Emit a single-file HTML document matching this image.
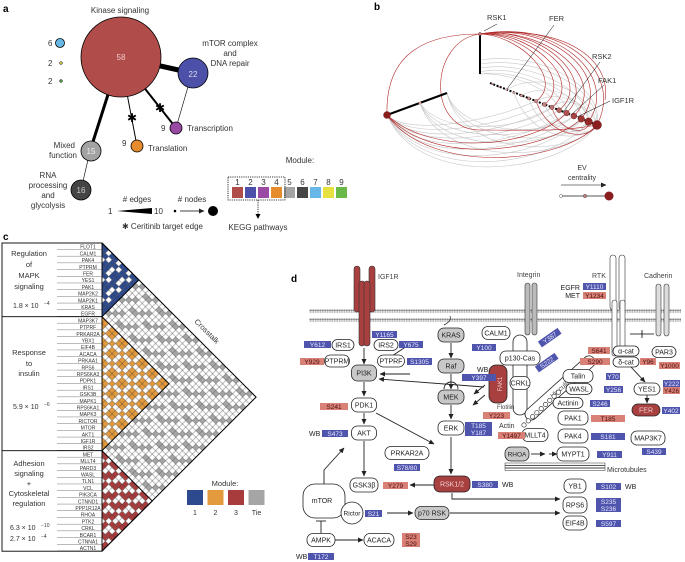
<!DOCTYPE html>
<html><head><meta charset="utf-8">
<style>
html,body{margin:0;padding:0;background:#fff;}
svg{display:block;font-family:"Liberation Sans",sans-serif;}
</style></head><body>
<svg width="685" height="562" viewBox="0 0 685 562" xmlns="http://www.w3.org/2000/svg">
<defs>
<marker id="ar" markerWidth="6" markerHeight="6" refX="5" refY="3" orient="auto" markerUnits="userSpaceOnUse"><path d="M0,0.5 L5.5,3 L0,5.5 z" fill="#222"/></marker>
<pattern id="mem" width="2.4" height="3" patternUnits="userSpaceOnUse"><circle cx="1.2" cy="1.5" r="1.1" fill="#888"/></pattern>
<pattern id="grid" width="1" height="1" patternUnits="userSpaceOnUse"><rect x="0" y="0" width="1" height="1" fill="none" stroke="#333" stroke-width="0.07"/></pattern>
<pattern id="pBlue" width="3" height="3" patternUnits="userSpaceOnUse"><rect x="0" y="0" width="1" height="1" fill="#2e4a8e"/><rect x="1" y="0" width="1" height="1" fill="#2e4a8e"/><rect x="2" y="1" width="1" height="1" fill="#2e4a8e"/><rect x="0" y="2" width="1" height="1" fill="#2e4a8e"/><rect x="1" y="2" width="1" height="1" fill="#2e4a8e"/><rect x="1" y="1" width="1" height="1" fill="#2e4a8e"/></pattern>
<pattern id="pOr" width="3" height="3" patternUnits="userSpaceOnUse"><rect x="0" y="0" width="1" height="1" fill="#e39a3c"/><rect x="2" y="0" width="1" height="1" fill="#e39a3c"/><rect x="1" y="1" width="1" height="1" fill="#e39a3c"/><rect x="0" y="2" width="1" height="1" fill="#e39a3c"/><rect x="2" y="2" width="1" height="1" fill="#e39a3c"/></pattern>
<pattern id="pRed" width="3" height="3" patternUnits="userSpaceOnUse"><rect x="0" y="0" width="1" height="1" fill="#a83c3c"/><rect x="1" y="1" width="1" height="1" fill="#a83c3c"/><rect x="2" y="1" width="1" height="1" fill="#a83c3c"/><rect x="0" y="2" width="1" height="1" fill="#a83c3c"/><rect x="2" y="0" width="1" height="1" fill="#a83c3c"/></pattern>
<pattern id="pGr" width="4" height="4" patternUnits="userSpaceOnUse"><rect x="0" y="0" width="1" height="1" fill="#a5a5a5"/><rect x="2" y="1" width="1" height="1" fill="#a5a5a5"/><rect x="3" y="1" width="1" height="1" fill="#a5a5a5"/><rect x="1" y="3" width="1" height="1" fill="#a5a5a5"/></pattern>
<pattern id="glines" width="50" height="6.7" patternUnits="userSpaceOnUse" y="243"><line x1="0" y1="6.5" x2="50" y2="6.5" stroke="#444" stroke-width="0.4"/></pattern>
</defs>

<!-- Panel a -->
<g font-size="8" fill="#333">
<text x="3" y="12" font-weight="bold" font-size="10" fill="#000">a</text>
<line x1="120" y1="57" x2="192" y2="73" stroke="#000" stroke-width="5"/>
<line x1="120" y1="57" x2="176" y2="128" stroke="#000" stroke-width="2"/>
<line x1="120" y1="57" x2="137" y2="146" stroke="#000" stroke-width="1"/>
<line x1="120" y1="57" x2="90" y2="151" stroke="#000" stroke-width="3"/>
<line x1="192" y1="73" x2="176" y2="128" stroke="#000" stroke-width="0.6"/>
<line x1="90" y1="151" x2="81" y2="190" stroke="#000" stroke-width="0.6"/>
<text x="155" y="112" font-size="12" fill="#000">✱</text>
<text x="127" y="122" font-size="12" fill="#000">✱</text>
<circle cx="121" cy="57" r="40" fill="#b04d4b" stroke="#000" stroke-width="0.8"/>
<text x="121" y="60" fill="#f2c8c8" text-anchor="middle">58</text>
<circle cx="193" cy="73" r="15" fill="#4c50a8" stroke="#000" stroke-width="0.8"/>
<text x="193" y="77" fill="#dde" text-anchor="middle">22</text>
<circle cx="176" cy="128" r="6" fill="#9b4aa3" stroke="#000" stroke-width="0.8"/>
<circle cx="137" cy="146" r="6" fill="#e68c2c" stroke="#000" stroke-width="0.8"/>
<circle cx="91" cy="151" r="10" fill="#a3a3a3" stroke="#000" stroke-width="0.8"/>
<text x="91" y="154" fill="#eee" text-anchor="middle">15</text>
<circle cx="81" cy="190" r="10" fill="#454545" stroke="#000" stroke-width="0.8"/>
<text x="81" y="193" fill="#ccc" text-anchor="middle">16</text>
<circle cx="60" cy="43" r="4.5" fill="#67b8e6" stroke="#000" stroke-width="0.8"/>
<circle cx="61" cy="63" r="1.4" fill="#d8d040" stroke="#000" stroke-width="0.5"/>
<circle cx="61" cy="81" r="1.4" fill="#58a848" stroke="#000" stroke-width="0.5"/>
<text x="48" y="46">6</text><text x="48" y="66">2</text><text x="48" y="84">2</text>
<text x="120" y="13" text-anchor="middle">Kinase signaling</text>
<text x="230" y="46" text-anchor="middle">mTOR complex</text>
<text x="230" y="56" text-anchor="middle">and</text>
<text x="230" y="66" text-anchor="middle">DNA repair</text>
<text x="161" y="131">9</text><text x="187" y="131">Transcription</text>
<text x="122" y="146">9</text><text x="148" y="151">Translation</text>
<text x="75" y="148" text-anchor="end">Mixed</text>
<text x="77" y="158" text-anchor="end">function</text>
<text x="48" y="178" text-anchor="middle">RNA</text>
<text x="48" y="188" text-anchor="middle">processing</text>
<text x="48" y="198" text-anchor="middle">and</text>
<text x="48" y="208" text-anchor="middle">glycolysis</text>
<text x="137" y="202" text-anchor="middle"># edges</text>
<text x="192" y="202" text-anchor="middle"># nodes</text>
<text x="108" y="214">1</text>
<polygon points="117,211 152,208 152,214" fill="#000"/>
<text x="154" y="214">10</text>
<circle cx="175" cy="211" r="1.3" fill="#000"/>
<line x1="180" y1="211" x2="204" y2="211" stroke="#000" stroke-width="0.8" marker-end="url(#ar)"/>
<circle cx="213" cy="211" r="5" fill="#000"/>
<text x="122" y="229">✱ Ceritinib target edge</text>
<text x="300" y="163" text-anchor="middle">Module:</text>
<rect x="232" y="187" width="11" height="11" fill="#b04d4b"/>
<rect x="245" y="187" width="11" height="11" fill="#4c50a8"/>
<rect x="258" y="187" width="11" height="11" fill="#9b4aa3"/>
<rect x="271" y="187" width="11" height="11" fill="#e68c2c"/>
<rect x="284" y="187" width="11" height="11" fill="#a3a3a3"/>
<rect x="297" y="187" width="11" height="11" fill="#454545"/>
<rect x="310" y="187" width="11" height="11" fill="#67b8e6"/>
<rect x="323" y="187" width="11" height="11" fill="#e6e040"/>
<rect x="336" y="187" width="11" height="11" fill="#6ab848"/>
<text x="237.5" y="185" text-anchor="middle">1</text>
<text x="250.5" y="185" text-anchor="middle">2</text>
<text x="263.5" y="185" text-anchor="middle">3</text>
<text x="276.5" y="185" text-anchor="middle">4</text>
<text x="289.5" y="185" text-anchor="middle">5</text>
<text x="302.5" y="185" text-anchor="middle">6</text>
<text x="315.5" y="185" text-anchor="middle">7</text>
<text x="328.5" y="185" text-anchor="middle">8</text>
<text x="341.5" y="185" text-anchor="middle">9</text>
<rect x="228" y="177" width="57" height="23" fill="none" stroke="#000" stroke-width="0.8" stroke-dasharray="1.2,1"/>
<line x1="258" y1="200" x2="258" y2="216" stroke="#000" stroke-width="0.8" stroke-dasharray="1.2,1"/>
<path d="M255.5,214 L258,219 L260.5,214z" fill="#000"/>
<text x="258" y="230" text-anchor="middle">KEGG pathways</text>
</g>

<!-- Panel b -->
<g fill="none" stroke-width="0.6">
<text x="374" y="10" font-weight="bold" font-size="10" fill="#000" stroke="none">b</text>
<g stroke="#c8c8c8">
<path d="M387,115 C420,190 560,175 597,125"/>
<path d="M387,115 C420,182 550,170 588.6,121.7"/>
<path d="M387,115 C420,175 540,162 581.3,118.9"/>
<path d="M387,115 C420,168 530,152 573.9,116"/>
<path d="M387,115 C415,160 520,146 566.6,113.1"/>
<path d="M387,115 C415,152 510,140 559.2,110.2"/>
<path d="M387,115 C410,146 500,136 551.9,107.4"/>
<path d="M387,115 C410,140 490,130 544.5,104.5"/>
<path d="M387,115 C405,134 480,125 536.1,101.2"/>
<path d="M420,103 C440,165 560,165 597,125"/>
<path d="M420,103 C440,155 550,152 581.3,118.9"/>
<path d="M420,103 C440,145 540,142 566.6,113.1"/>
<path d="M420,103 C440,135 520,132 551.9,107.4"/>
<path d="M447,93 C460,155 570,160 597,125"/>
<path d="M447,93 C460,145 560,148 588.6,121.7"/>
<path d="M447,93 C460,135 545,138 573.9,116"/>
<path d="M480,60 C545,50 605,90 597,125"/>
<path d="M480,64 C540,55 600,90 597,125"/>
<path d="M480,68 C530,60 590,90 588.6,121.7"/>
<path d="M480,72 C520,62 582,95 581.3,118.9"/>
<path d="M480,74 C520,68 570,95 566.6,113.1"/>
<path d="M480,74 C510,72 555,90 559.2,110.2"/>
<path d="M514,92.6 C530,140 580,145 597,125"/>
<path d="M528.8,98.4 C540,135 580,140 588.6,121.7"/>
<path d="M536.1,101.2 C545,130 575,135 581.3,118.9"/>
<path d="M544.5,104.5 C555,130 590,140 597,125"/>
<path d="M506.7,89.7 C540,70 590,90 597,125"/>
<path d="M521.4,95.5 C550,80 585,100 588.6,121.7"/>
<path d="M536.1,101.2 C560,88 590,105 597,125"/>
<path d="M551.9,107.4 C565,95 590,105 588.6,121.7"/>
</g>
<g stroke="#b02828">
<path d="M387,115 C385,50 430,34 480,34"/>
<path d="M480,34 C430,40 425,130 480,130 C530,130 560,132 597,125"/>
<path d="M480,34 C560,20 625,70 597,125"/>
<path d="M480,34 C555,20 620,75 588.6,121.7"/>
<path d="M480,34 C550,22 615,75 581.3,118.9"/>
<path d="M480,34 C545,25 610,80 573.9,116"/>
<path d="M480,34 C540,25 600,80 566.6,113.1"/>
<path d="M480,34 C535,28 595,80 559.2,110.2"/>
<path d="M480,34 C530,30 585,80 551.9,107.4"/>
<path d="M480,34 C525,32 575,80 544.5,104.5"/>
<path d="M480,34 C520,35 565,80 536.1,101.2"/>
<path d="M480,34 C565,24 612,60 605,100"/>
<path d="M387,115 C430,175 560,165 597,125"/>
<path d="M387,115 C430,165 540,155 581.3,118.9"/>
<path d="M387,115 C430,155 530,150 566.6,113.1"/>
<path d="M536.1,101.2 C550,140 590,140 597,125"/>
<path d="M551.9,107.4 C560,135 590,135 588.6,121.7"/>
</g>
<line x1="387" y1="115" x2="447" y2="93" stroke="#000" stroke-width="2"/>
<line x1="480" y1="34" x2="480" y2="74" stroke="#000" stroke-width="2"/>
<line x1="490" y1="83" x2="597" y2="125" stroke="#000" stroke-width="2" stroke-dasharray="2,1.5"/>
<g stroke="#5a1010" stroke-width="0.4">
<circle cx="387" cy="115" r="3.5" fill="#8a1e1e"/>
<circle cx="420" cy="103" r="1.3" fill="#d8a0a0" stroke="none"/>
<circle cx="480" cy="34" r="1.6" fill="#c08080"/>
<circle cx="492" cy="84" r="0.8" fill="#fff"/>
<circle cx="499.4" cy="86.9" r="0.9" fill="#f4e4e4"/>
<circle cx="506.7" cy="89.7" r="1" fill="#ecd4d4"/>
<circle cx="514" cy="92.6" r="1.1" fill="#e4c4c4"/>
<circle cx="521.4" cy="95.5" r="1.3" fill="#dcb4b4"/>
<circle cx="528.8" cy="98.4" r="1.5" fill="#d4a4a4"/>
<circle cx="536.1" cy="101.2" r="1.7" fill="#cc9494"/>
<circle cx="544.5" cy="104.5" r="2" fill="#c48484"/>
<circle cx="551.9" cy="107.4" r="2.2" fill="#bc7474"/>
<circle cx="559.2" cy="110.2" r="2.5" fill="#b46464"/>
<circle cx="566.6" cy="113.1" r="2.8" fill="#ac5454"/>
<circle cx="573.9" cy="116" r="3" fill="#a44444"/>
<circle cx="581.3" cy="118.9" r="3.3" fill="#9c3434"/>
<circle cx="588.6" cy="121.7" r="3.8" fill="#942828"/>
<circle cx="597" cy="125" r="4.5" fill="#8a1e1e"/>
</g>
<g stroke="#000" stroke-width="0.5">
<line x1="484" y1="31" x2="497" y2="24"/>
<line x1="554" y1="25" x2="507" y2="89"/>
<line x1="600" y1="62" x2="564" y2="111"/>
<line x1="604" y1="85" x2="571" y2="115"/>
<line x1="610" y1="101" x2="577" y2="117"/>
</g>
<g font-size="7.5" fill="#333" stroke="none">
<text x="487" y="20">RSK1</text>
<text x="549" y="21">FER</text>
<text x="592" y="59">RSK2</text>
<text x="598" y="83">FAK1</text>
<text x="612" y="103">IGF1R</text>
<text x="582" y="170" text-anchor="middle" font-size="7">EV</text>
<text x="582" y="180" text-anchor="middle" font-size="7">centrality</text>
</g>
<line x1="561" y1="185" x2="606" y2="185" stroke="#000" marker-end="url(#ar)"/>
<line x1="561" y1="196" x2="609" y2="196" stroke="#555" stroke-width="1"/>
<circle cx="561" cy="196" r="1.5" fill="#fff" stroke="#555" stroke-width="0.5"/>
<circle cx="585" cy="196" r="1.8" fill="#c08080" stroke="#555" stroke-width="0.5"/>
<circle cx="609" cy="196" r="4.5" fill="#8a1e1e" stroke="none"/>
</g>

<!-- Panel c -->
<g>
<text x="3" y="240" font-weight="bold" font-size="10" fill="#000">c</text>
<g transform="matrix(3.35,3.35,-3.35,3.35,102,243)">
<polygon points="0,0 46,0 46,46" fill="#fff"/>
<rect x="11" y="0" width="35" height="11" fill="url(#pGr)"/>
<rect x="31" y="11" width="15" height="20" fill="url(#pGr)"/>
<polygon points="0,0 11,0 11,11" fill="url(#pBlue)"/>
<polygon points="11,11 31,11 31,31" fill="url(#pOr)"/>
<polygon points="31,31 46,31 46,46" fill="url(#pRed)"/>
<polygon points="0,0 46,0 46,46" fill="url(#grid)"/>
<g fill="none" stroke="#000" stroke-width="1">
<polyline points="0,0 11,0 11,11" vector-effect="non-scaling-stroke"/>
<polyline points="11,11 31,11 31,31" vector-effect="non-scaling-stroke"/>
<polyline points="31,31 46,31 46,46" vector-effect="non-scaling-stroke"/>
<polyline points="0,0 46,0 46,46" vector-effect="non-scaling-stroke"/>
</g>
</g>
<rect x="57" y="243" width="45" height="308.2" fill="url(#glines)"/>
<rect x="2" y="243" width="100" height="308.2" fill="none" stroke="#000" stroke-width="0.9"/>
<line x1="2" y1="316.7" x2="102" y2="316.7" stroke="#000" stroke-width="0.9"/>
<line x1="2" y1="450.7" x2="102" y2="450.7" stroke="#000" stroke-width="0.9"/>
<g font-size="5" text-anchor="middle" fill="#333">
<text x="88" y="248.7">FLOT1</text><text x="88" y="255.4">CALM1</text><text x="88" y="262.1">PAK4</text><text x="88" y="268.8">PTPRM</text><text x="88" y="275.5">FER</text><text x="88" y="282.2">YES1</text><text x="88" y="288.9">PAK1</text><text x="88" y="295.6">MAP2K2</text><text x="88" y="302.3">MAP2K1</text><text x="88" y="309">KRAS</text><text x="88" y="315.7">EGFR</text>
<text x="88" y="322.4">MAP3K7</text><text x="88" y="329.1">PTPRF</text><text x="88" y="335.8">PRKAR2A</text><text x="88" y="342.5">YBX1</text><text x="88" y="349.2">EIF4B</text><text x="88" y="355.9">ACACA</text><text x="88" y="362.6">PRKAA1</text><text x="88" y="369.3">RPS6</text><text x="88" y="376">RPS6KA3</text><text x="88" y="382.7">PDPK1</text><text x="88" y="389.4">IRS1</text><text x="88" y="396.1">GSK3B</text><text x="88" y="402.8">MAPK1</text><text x="88" y="409.5">RPS6KA1</text><text x="88" y="416.2">MAPK3</text><text x="88" y="422.9">RICTOR</text><text x="88" y="429.6">MTOR</text><text x="88" y="436.3">AKT1</text><text x="88" y="443">IGF1R</text><text x="88" y="449.7">IRS2</text>
<text x="88" y="456.4">MET</text><text x="88" y="463.1">MLLT4</text><text x="88" y="469.8">PARD3</text><text x="88" y="476.5">WASL</text><text x="88" y="483.2">TLN1</text><text x="88" y="489.9">VCL</text><text x="88" y="496.6">PIK3CA</text><text x="88" y="503.3">CTNND1</text><text x="88" y="510">PPP1R12A</text><text x="88" y="516.7">RHOA</text><text x="88" y="523.4">PTK2</text><text x="88" y="530.1">CRKL</text><text x="88" y="536.8">BCAR1</text><text x="88" y="543.5">CTNNA1</text><text x="88" y="550.2">ACTN1</text>
</g>
<g font-size="7.5" text-anchor="middle" fill="#333">
<text x="29" y="256">Regulation</text><text x="29" y="267">of</text><text x="29" y="278">MAPK</text><text x="29" y="289">signaling</text>
<text x="29" y="355">Response</text><text x="29" y="366">to</text><text x="29" y="376">insulin</text>
<text x="29" y="466">Adhesion</text><text x="29" y="476">signaling</text><text x="29" y="486">+</text><text x="29" y="496">Cytoskeletal</text><text x="29" y="506">regulation</text>
</g>
<g font-size="7" fill="#333">
<text x="13" y="308">1.8 × 10</text><text x="44" y="305" font-size="5">−4</text>
<text x="13" y="409">5.9 × 10</text><text x="44" y="406" font-size="5">−6</text>
<text x="10" y="530">6.3 × 10</text><text x="41" y="527" font-size="5">−10</text>
<text x="10" y="541">2.7 × 10</text><text x="41" y="538" font-size="5">−4</text>
</g>
<text x="194" y="322" font-size="7.5" fill="#333" transform="rotate(45 194 322)">Crosstalk</text>
<text x="225" y="486" font-size="7.5" text-anchor="middle" fill="#333">Module:</text>
<rect x="187" y="490" width="16" height="15" fill="#2e4a8e"/>
<rect x="207.5" y="490" width="16" height="15" fill="#e39a3c"/>
<rect x="228" y="490" width="16" height="15" fill="#a83c3c"/>
<rect x="248.5" y="490" width="16" height="15" fill="#a5a5a5"/>
<g font-size="7" text-anchor="middle" fill="#333"><text x="195" y="515">1</text><text x="215.5" y="515">2</text><text x="236" y="515">3</text><text x="256.5" y="515">Tie</text></g>
</g>

<!-- Panel d -->
<g font-size="7" fill="#222">
<text x="291" y="282" font-size="10" font-weight="bold" fill="#000">d</text>
<rect x="309" y="309" width="372" height="4" fill="url(#mem)"/>
<rect x="309" y="318" width="372" height="4" fill="url(#mem)"/>
<g stroke="#333" stroke-width="0.6">
<rect x="354" y="266" width="6" height="46" rx="3" fill="#a84040"/>
<rect x="369" y="266" width="6" height="46" rx="3" fill="#a84040"/>
<rect x="359" y="281" width="6" height="65" rx="3" fill="#a84040"/>
<rect x="364" y="281" width="6" height="65" rx="3" fill="#a84040"/>
<rect x="525" y="283" width="5" height="52" rx="2.5" fill="#bbb"/>
<rect x="532" y="283" width="5" height="52" rx="2.5" fill="#bbb"/>
<rect x="610" y="255" width="6" height="55" rx="3" fill="#fff"/>
<rect x="619" y="255" width="6" height="55" rx="3" fill="#fff"/>
<rect x="612" y="300" width="5" height="56" rx="2.5" fill="#fff"/>
<rect x="620" y="300" width="5" height="56" rx="2.5" fill="#fff"/>
<rect x="656" y="284" width="5" height="52" rx="2.5" fill="#ddd"/>
<rect x="664" y="284" width="5" height="52" rx="2.5" fill="#ddd"/>
</g>
<text x="378" y="279" fill="#444">IGF1R</text>
<text x="517" y="277" fill="#444">Integrin</text>
<text x="592" y="278" fill="#444">RTK</text>
<text x="644" y="278" fill="#444">Cadherin</text>
<g stroke="#000" stroke-width="0.8"><line x1="630" y1="334" x2="654" y2="334"/><line x1="642" y1="330" x2="642" y2="338"/></g>

<g stroke="#222" stroke-width="0.9" fill="none">
<line x1="364" y1="348" x2="364" y2="364" marker-end="url(#ar)"/>
<line x1="364" y1="382" x2="364" y2="396" marker-end="url(#ar)"/>
<line x1="364" y1="413" x2="364" y2="424" marker-end="url(#ar)"/>
<line x1="364" y1="441" x2="364" y2="476" marker-end="url(#ar)"/>
<line x1="376" y1="413" x2="434" y2="444" marker-end="url(#ar)"/>
<line x1="410" y1="344" x2="380" y2="364" marker-end="url(#ar)"/>
<line x1="410" y1="374" x2="380" y2="374" marker-end="url(#ar)"/>
<line x1="451" y1="343" x2="451" y2="358" marker-end="url(#ar)"/>
<line x1="451" y1="374" x2="451" y2="389" marker-end="url(#ar)"/>
<line x1="451" y1="405" x2="451" y2="419" marker-end="url(#ar)"/>
<line x1="451" y1="437" x2="451" y2="474" marker-end="url(#ar)"/>
<line x1="484" y1="387" x2="379" y2="379" marker-end="url(#ar)"/>
<line x1="485" y1="385" x2="474" y2="394" marker-end="url(#ar)"/>
<line x1="485" y1="395" x2="473" y2="405" marker-end="url(#ar)"/>
<path d="M444,389 A7,7 0 0 1 458,389"/>
<line x1="434" y1="485" x2="410" y2="485" marker-end="url(#ar)"/>
<polyline points="452,493 452,499 560,499" marker-end="url(#ar)"/>
<line x1="450" y1="513" x2="560" y2="513" marker-end="url(#ar)"/>
<line x1="387" y1="513" x2="413" y2="513" marker-end="url(#ar)"/>
<polyline points="324,484 324,470 344,448" marker-end="url(#ar)"/>
<line x1="321" y1="533" x2="321" y2="521"/><line x1="316" y1="521" x2="326" y2="521"/>
<line x1="334" y1="540" x2="363" y2="540" marker-end="url(#ar)"/>
<line x1="531" y1="454" x2="545" y2="454" marker-end="url(#ar)"/>
<line x1="549" y1="454" x2="557" y2="454" marker-end="url(#ar)"/>
<line x1="647" y1="395" x2="647" y2="403" marker-end="url(#ar)"/>
<line x1="631" y1="367" x2="645" y2="382" marker-end="url(#ar)"/>
<path d="M444,325 Q452,321 450,316" stroke-width="0.7"/>
</g>

<rect x="505" y="463" width="100" height="2.2" fill="#fff" stroke="#333" stroke-width="0.5"/>
<rect x="505" y="465.6" width="100" height="2.2" fill="#fff" stroke="#333" stroke-width="0.5"/>
<rect x="505" y="468.2" width="100" height="2.2" fill="#fff" stroke="#333" stroke-width="0.5"/>
<text x="607" y="472" fill="#333">Microtubules</text>

<rect x="513" y="335" width="14" height="80" rx="7" fill="#fff" stroke="#222" stroke-width="0.8"/>
<g transform="rotate(-42 560 388)"><rect x="515" y="382" width="90" height="12" rx="6" fill="#fff" stroke="#222" stroke-width="0.8"/><text x="560" y="391" text-anchor="middle" fill="#444">Vinculin</text></g>
<g fill="#fff" stroke="#222" stroke-width="0.6">
<circle cx="524" cy="425" r="2.2"/><circle cx="528.3" cy="420.9" r="2.2"/><circle cx="532.6" cy="416.8" r="2.2"/><circle cx="536.9" cy="412.7" r="2.2"/><circle cx="541.2" cy="408.6" r="2.2"/><circle cx="545.5" cy="404.5" r="2.2"/><circle cx="549.8" cy="400.4" r="2.2"/><circle cx="554.1" cy="396.3" r="2.2"/><circle cx="558.4" cy="392.2" r="2.2"/>
</g>

<g stroke="#222" stroke-width="0.8" fill="#fff">
<rect x="482" y="326.5" width="28" height="13" rx="6"/>
<rect x="500" y="351" width="40" height="14" rx="6"/>
<rect x="510" y="376.5" width="20" height="13" rx="6"/>
<rect x="489" y="365" width="18" height="38" rx="7" fill="#a84040"/>
<rect x="332" y="339.5" width="22" height="11" rx="5.5"/>
<rect x="374" y="339.5" width="24" height="11" rx="5.5"/>
<rect x="324.5" y="355" width="25" height="12" rx="6"/>
<rect x="377.5" y="355" width="27" height="12" rx="6"/>
<rect x="351.5" y="365" width="25" height="16" rx="6" fill="#c8c8c8"/>
<rect x="351.5" y="398" width="25" height="14" rx="6"/>
<rect x="351.5" y="426" width="25" height="14" rx="6"/>
<rect x="350" y="478" width="28" height="14" rx="6"/>
<rect x="303" y="484" width="42" height="34" rx="12"/>
<circle cx="352" cy="513" r="11"/>
<rect x="415" y="506.5" width="34" height="13" rx="6" fill="#c8c8c8"/>
<rect x="307" y="533.5" width="28" height="13" rx="6"/>
<rect x="364" y="533.5" width="30" height="13" rx="6"/>
<rect x="385" y="446.5" width="44" height="13" rx="6"/>
<rect x="438" y="328" width="26" height="14" rx="6" fill="#c8c8c8"/>
<rect x="438" y="359" width="26" height="14" rx="6" fill="#c8c8c8"/>
<rect x="438" y="390" width="26" height="14" rx="6" fill="#c8c8c8"/>
<rect x="438" y="421" width="26" height="14" rx="6"/>
<rect x="434" y="476" width="36" height="16" rx="6" fill="#a84040"/>
<rect x="522" y="428.5" width="26" height="13" rx="6"/>
<rect x="505" y="447" width="24" height="14" rx="6" fill="#c8c8c8"/>
<rect x="563" y="369.5" width="30" height="13" rx="6"/>
<rect x="566" y="383.5" width="26" height="11" rx="5.5"/>
<rect x="553" y="397.5" width="30" height="11" rx="5.5"/>
<rect x="558" y="411" width="30" height="14" rx="6"/>
<rect x="558" y="429" width="30" height="14" rx="6"/>
<rect x="557" y="447" width="32" height="14" rx="6"/>
<rect x="564" y="479" width="22" height="14" rx="6"/>
<rect x="563" y="497" width="24" height="16" rx="6"/>
<rect x="563" y="516" width="24" height="14" rx="6"/>
<rect x="613" y="346" width="26" height="10" rx="5"/>
<rect x="613" y="357" width="26" height="10" rx="5"/>
<rect x="652" y="346.5" width="24" height="11" rx="5.5"/>
<rect x="634" y="383" width="26" height="12" rx="6"/>
<rect x="632" y="404" width="28" height="12" rx="6" fill="#a84040"/>
<rect x="631" y="431" width="34" height="14" rx="6"/>
</g>
<g text-anchor="middle">
<text x="496" y="335.5">CALM1</text>
<text x="520" y="360.5">p130-Cas</text>
<text x="520" y="385.5">CRKL</text>
<text x="500" y="386" fill="#f3d0d0" font-size="6" transform="rotate(-90 500 384)">FAK1</text>
<text x="343" y="347.5">IRS1</text><text x="386" y="347.5">IRS2</text>
<text x="337" y="363.5">PTPRM</text><text x="391" y="363.5">PTPRF</text>
<text x="364" y="375.5">PI3K</text><text x="364" y="407.5">PDK1</text><text x="364" y="435.5">AKT</text>
<text x="364" y="487.5">GSK3β</text><text x="322" y="503">mTOR</text>
<text x="352" y="515.5" font-size="6.5">Rictor</text>
<text x="432" y="515.5">p70 RSK</text>
<text x="321" y="542.5">AMPK</text><text x="379" y="542.5">ACACA</text>
<text x="407" y="455.5">PRKAR2A</text>
<text x="451" y="337.5">KRAS</text><text x="451" y="368.5">Raf</text><text x="451" y="399.5">MEK</text><text x="451" y="430.5">ERK</text>
<text x="452" y="486.5" fill="#f3d0d0">RSK1/2</text>
<text x="535" y="437.5">MLLT4</text><text x="517" y="456.5" font-size="6.5">RHOA</text>
<text x="578" y="378.5">Talin</text><text x="579" y="391.5">WASL</text><text x="568" y="405.5">Actinin</text>
<text x="573" y="420.5">PAK1</text><text x="573" y="438.5">PAK4</text><text x="573" y="456.5">MYPT1</text>
<text x="575" y="488.5">YB1</text><text x="575" y="507.5">RPS6</text><text x="575" y="525.5">EIF4B</text>
<text x="626" y="353.5">α-cat</text><text x="626" y="364.5">δ-cat</text><text x="664" y="354.5">PAR3</text>
<text x="647" y="391.5">YES1</text><text x="646" y="412.5" fill="#f3d0d0">FER</text><text x="648" y="440.5">MAP3K7</text>
</g>

<g>
<rect x="372" y="331" width="25" height="7" fill="#4f55ad"/>
<rect x="304" y="341" width="27" height="7" fill="#4f55ad"/>
<rect x="399" y="341" width="24" height="7" fill="#4f55ad"/>
<rect x="300" y="358" width="24" height="7" fill="#d98077"/>
<rect x="407" y="358" width="25" height="7" fill="#4f55ad"/>
<rect x="320" y="403" width="28" height="7" fill="#d98077"/>
<rect x="322" y="430" width="26" height="7" fill="#4f55ad"/>
<rect x="383" y="482" width="25" height="7" fill="#d98077"/>
<rect x="365" y="510" width="17" height="7" fill="#4f55ad"/>
<rect x="308" y="553" width="26" height="7" fill="#4f55ad"/>
<rect x="402" y="533" width="18" height="7" fill="#d98077"/>
<rect x="402" y="540" width="18" height="7" fill="#d98077"/>
<rect x="394" y="464" width="26" height="7" fill="#4f55ad"/>
<rect x="465" y="422" width="27" height="7" fill="#4f55ad"/>
<rect x="465" y="429" width="27" height="7" fill="#4f55ad"/>
<rect x="472" y="481" width="26" height="7" fill="#4f55ad"/>
<rect x="472" y="344" width="24" height="7" fill="#4f55ad"/>
<rect x="462" y="374" width="34" height="7" fill="#4f55ad"/>
<rect x="483" y="412" width="27" height="7" fill="#d98077"/>
<rect x="498" y="432" width="27" height="7" fill="#d98077"/>
<rect x="606" y="373" width="14" height="7" fill="#4f55ad"/>
<rect x="604" y="386" width="19" height="7" fill="#4f55ad"/>
<rect x="590" y="400" width="20" height="7" fill="#4f55ad"/>
<rect x="591" y="415" width="34" height="7" fill="#d98077"/>
<rect x="591" y="433" width="34" height="7" fill="#4f55ad"/>
<rect x="597" y="451" width="25" height="7" fill="#4f55ad"/>
<rect x="596" y="483" width="25" height="7" fill="#4f55ad"/>
<rect x="596" y="498" width="25" height="7" fill="#4f55ad"/>
<rect x="596" y="505" width="25" height="7" fill="#4f55ad"/>
<rect x="596" y="520" width="25" height="7" fill="#4f55ad"/>
<rect x="583" y="283" width="23" height="7" fill="#4f55ad"/>
<rect x="583" y="292" width="23" height="7" fill="#d98077"/>
<rect x="588" y="347" width="22" height="7" fill="#d98077"/>
<rect x="580" y="358" width="30" height="7" fill="#d98077"/>
<rect x="640" y="358" width="16" height="7" fill="#d98077"/>
<rect x="659" y="362" width="21" height="7" fill="#d98077"/>
<rect x="663" y="380" width="17" height="7" fill="#4f55ad"/>
<rect x="663" y="387" width="17" height="7" fill="#d98077"/>
<rect x="662" y="407" width="18" height="7" fill="#4f55ad"/>
<rect x="642" y="448" width="24" height="7" fill="#4f55ad"/>
<g transform="rotate(-35 550 338)"><rect x="538" y="334" width="24" height="7" fill="#4f55ad"/><text x="550" y="340" text-anchor="middle" font-size="6.5" fill="#e8e8ff">Y387</text></g>
<g transform="rotate(-35 547 363)"><rect x="535" y="359" width="24" height="7" fill="#4f55ad"/><text x="547" y="365" text-anchor="middle" font-size="6.5" fill="#e8e8ff">S222</text></g>
</g>
<g font-size="6.5" text-anchor="middle" fill="#e8e8ff">
<text x="384.5" y="337">Y1165</text><text x="317.5" y="347">Y612</text><text x="411" y="347">Y675</text>
<text x="419.5" y="364">S1305</text><text x="335" y="436">S473</text><text x="373.5" y="516">S21</text>
<text x="321" y="559">T172</text><text x="407" y="470">S78/80</text>
<text x="478.5" y="428">T185</text><text x="478.5" y="435">Y187</text><text x="485" y="487">S380</text>
<text x="484" y="350">Y100</text><text x="479" y="380">Y397</text>
<text x="613" y="379">Y70</text><text x="613.5" y="392">Y256</text><text x="600" y="406">S246</text>
<text x="608" y="439">S181</text><text x="609.5" y="457">Y911</text>
<text x="608.5" y="489">S102</text><text x="608.5" y="504">S235</text><text x="608.5" y="511">S236</text><text x="608.5" y="526">S597</text>
<text x="594.5" y="289">Y1110</text><text x="671.5" y="386">Y222</text><text x="671" y="413">Y402</text><text x="654" y="454">S439</text>
</g>
<g font-size="6.5" text-anchor="middle" fill="#4a1010">
<text x="312" y="364">Y929</text><text x="334" y="409">S241</text><text x="395.5" y="488">Y279</text>
<text x="411" y="539">S23</text><text x="411" y="546">S29</text>
<text x="496.5" y="418">Y223</text><text x="511.5" y="438">Y1497</text>
<text x="608" y="421">T185</text><text x="594.5" y="298">Y1234</text>
<text x="599" y="353">S641</text><text x="595" y="364">S290</text><text x="648" y="364">Y96</text><text x="669.5" y="368">Y1000</text>
<text x="671.5" y="393">Y426</text>
</g>
<text x="309" y="436">WB</text>
<text x="296" y="559">WB</text>
<text x="502" y="487">WB</text>
<text x="477" y="372">WB</text>
<text x="625" y="489">WB</text>
<text x="497" y="409" font-size="6" fill="#444">Flotilin</text>
<text x="499" y="428" fill="#333">Actin</text>
<text x="580" y="290" text-anchor="end">EGFR</text>
<text x="580" y="298" text-anchor="end">MET</text>
</g>
</svg>
</body></html>
